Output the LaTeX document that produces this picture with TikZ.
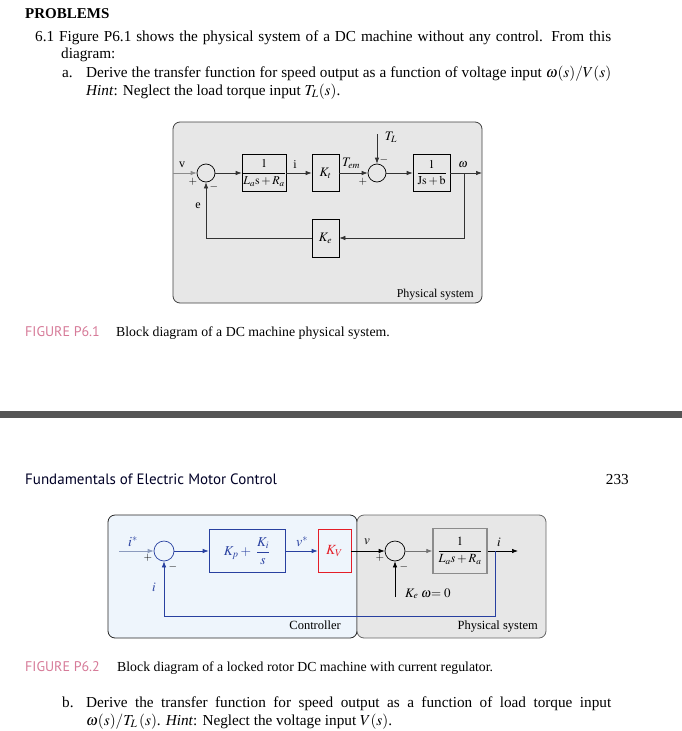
\documentclass[tikz,border=0pt]{standalone}
\usepackage{mathptmx}
\usepackage{fontspec}
\setmainfont{Liberation Serif}
\newfontfamily\capsans{PT Sans}
\usetikzlibrary{positioning}
\usetikzlibrary{arrows.meta}
\definecolor{figpink}{RGB}{214,122,152}
\definecolor{sysgray}{RGB}{231,231,231}
\definecolor{ctrlblue}{RGB}{238,245,252}
\definecolor{sigblue}{RGB}{40,64,160}
\definecolor{inblue}{RGB}{140,155,190}
\definecolor{kvred}{RGB}{228,30,40}
\definecolor{bargray}{RGB}{85,85,85}

\begin{document}
\begin{tikzpicture}[x=1pt,y=-1pt,
  txt/.style={inner sep=0pt,anchor=base west,font=\fontsize{15.25}{18}\selectfont},
  captxt/.style={inner sep=0pt,anchor=base west,font=\fontsize{13.8}{16}\selectfont},
  figlbl/.style={captxt,text=figpink,font=\capsans\fontsize{14}{16}\selectfont},
  frame/.style={draw=black!75,rounded corners=7pt,line width=0.8pt,inner sep=0pt},
  blk/.style={draw,line width=0.7pt,inner sep=0pt,font=\fontsize{12}{13}\selectfont},
  sum/.style={draw,circle,line width=0.7pt,minimum size=#1,inner sep=0pt},
  sig/.style={-{Latex[length=6pt,width=4.5pt]},line width=0.7pt,draw=black!80},
  lbl/.style={inner sep=0pt,font=\fontsize{12}{13}\selectfont},
  sgn/.style={inner sep=0pt,font=\fontsize{11}{12}\selectfont}]
\useasboundingbox (0,0) rectangle (682,731);

% problem statement
\node[txt,font=\bfseries\fontsize{15}{18}\selectfont] (title) at (25,18) {PROBLEMS};
\node[txt] (p1) at (35,41) {\makebox[576pt][s]{6.1 Figure P6.1 shows the physical system of a DC machine without any control. From this}};
\node[txt] (p2) at (61,58) {diagram:};
\node[txt] (pa) at (62,77) {a.};
\node[txt] (pa1) at (86,77) {\makebox[525pt][s]{Derive the transfer function for speed output as a function of voltage input $\omega(s)/V(s)$}};
\node[txt] (pa2) at (86,95) {\textit{Hint}: Neglect the load torque input $T_L(s)$.};

% figure P6.1
\node[frame,fill=sysgray,minimum width=309pt,minimum height=181pt] (sys1) at (327.5,212.5) {};
\node[sum=18pt] (s1) at (206,173) {};
\node[blk,minimum width=44pt,minimum height=37pt] (b1) at (264,173) {$\displaystyle\frac{1}{L_a\mathrm{s}+R_a}$};
\node[blk,font=\fontsize{13}{14}\selectfont,minimum width=27pt,minimum height=37pt] (kt) at (325.5,173) {$K_t$};
\node[sum=18pt] (s2) at (377,173) {};
\node[blk,minimum width=37pt,minimum height=37pt] (bj) at (431.5,173) {$\displaystyle\frac{1}{\mathrm{Js}+\mathrm{b}}$};
\node[blk,font=\fontsize{13}{14}\selectfont,minimum width=27pt,minimum height=38pt] (ke) at (325.5,238) {$K_e$};
\coordinate (vin) at (173,173);
\coordinate (tl) at (377,134);
\coordinate (wout) at (482,173);
\coordinate (br1) at (464,173);
\draw[sig,draw=black!45] (vin) -- (s1);
\draw[sig] (s1) -- (b1);
\draw[sig] (b1) -- (kt);
\draw[sig] (kt) -- (s2);
\draw[sig] (tl) -- (s2);
\draw[sig] (s2) -- (bj);
\draw[sig] (bj) -- (wout);
\draw[sig] (br1) |- (ke);
\draw[sig] (ke) -| (s1);
\node[lbl] at (182,165) {v};
\node[sgn] at (193,182) {$+$};
\node[sgn] at (214,187) {$-$};
\node[lbl] at (295,165) {i};
\node[lbl,font=\fontsize{13}{14}\selectfont] at (351,163) {$T_{em}$};
\node[sgn] at (363,182) {$+$};
\node[sgn] at (384,160) {$-$};
\node[lbl,font=\fontsize{13}{14}\selectfont] at (391,137) {$T_L$};
\node[lbl] at (463,165) {$\omega$};
\node[lbl] at (198,206) {e};
\node[lbl,anchor=base east] at (474,297) {Physical system};

\node[figlbl] (f1) at (25,336) {FIGURE P6.1};
\node[captxt] (f1t) at (116,336) {Block diagram of a DC machine physical system.};

% page break
\fill[bargray] (0,411) rectangle (682,418);
\node[captxt,font=\capsans\fontsize{15}{18}\selectfont,text=black!85!blue] (head) at (25,484) {Fundamentals of Electric Motor Control};
\node[txt,anchor=base east] (page) at (629,484) {233};

% figure P6.2
\node[frame,fill=ctrlblue,draw=black!85,minimum width=249pt,minimum height=123pt] (ctrl) at (232.5,576.5) {};
\node[frame,fill=sysgray,draw=black!60,minimum width=189pt,minimum height=123pt] (sys2) at (451.5,576.5) {};
\node[sum=20pt,draw=sigblue] (t1) at (164,551) {};
\node[blk,draw=sigblue,text=sigblue,font=\fontsize{13.5}{14}\selectfont,minimum width=76pt,minimum height=43pt] (pi) at (247,551) {$K_p+\;\displaystyle\frac{K_i}{s}$};
\node[blk,draw=kvred,text=kvred,font=\fontsize{14}{15}\selectfont,minimum width=33pt,minimum height=43pt] (kv) at (334.5,551) {$K_V$};
\node[sum=20pt] (t2) at (395,551) {};
\node[blk,draw=black!45,line width=1.4pt,font=\fontsize{12.5}{13}\selectfont,minimum width=54pt,minimum height=45pt] (pl) at (460,551) {$\displaystyle\frac{1}{L_as+R_a}$};
\coordinate (iin) at (119,551);
\coordinate (iout) at (518,551);
\coordinate (br2) at (495,551);
\coordinate (fb2) at (495,616);
\coordinate (kw) at (395,597);
\draw[sig,draw=inblue] (iin) -- (t1);
\draw[sig,draw=sigblue] (t1) -- (pi);
\draw[sig,draw=sigblue] (pi) -- (kv);
\draw[sig,draw=black] (kv) -- (t2);
\draw[sig,draw=black!55] (t2) -- (pl);
\draw[sig,draw=black] (pl) -- (iout);
\draw[sig,draw=sigblue] (br2) -- (fb2) -| (t1);
\draw[sig,draw=black] (kw) -- (t2);
\node[lbl,text=sigblue,font=\fontsize{14}{15}\selectfont] at (133,542) {$i^*$};
\node[sgn] at (148,558) {$+$};
\node[sgn] at (173,567) {$-$};
\node[lbl,text=sigblue,font=\fontsize{14}{15}\selectfont] at (302,542) {$v^*$};
\node[lbl,font=\fontsize{13}{14}\selectfont] at (367,542) {$v$};
\node[sgn] at (380,558) {$+$};
\node[sgn] at (404,567) {$-$};
\node[lbl,font=\fontsize{13}{14}\selectfont] at (499,542) {$i$};
\node[lbl,text=sigblue,font=\fontsize{13}{14}\selectfont] at (154,587) {$i$};
\node[lbl,anchor=base west,font=\fontsize{13}{14}\selectfont] at (405,597) {$K_e\;\omega{=}\;0$};
\node[lbl,anchor=base east,font=\fontsize{12.5}{13}\selectfont] at (341,629) {Controller};
\node[lbl,anchor=base east,font=\fontsize{12.5}{13}\selectfont] at (538,629) {Physical system};

\node[figlbl] (f2) at (25,671) {FIGURE P6.2};
\node[captxt] (f2t) at (117,671) {Block diagram of a locked rotor DC machine with current regulator.};

% part b
\node[txt] (pb) at (62,707) {b.};
\node[txt] (pb1) at (86,707) {\makebox[525pt][s]{Derive the transfer function for speed output as a function of load torque input}};
\node[txt] (pb2) at (86,725) {$\omega(s)/T_L\,(s)$. \textit{Hint}: Neglect the voltage input $V(s)$.};
\end{tikzpicture}
\end{document}
